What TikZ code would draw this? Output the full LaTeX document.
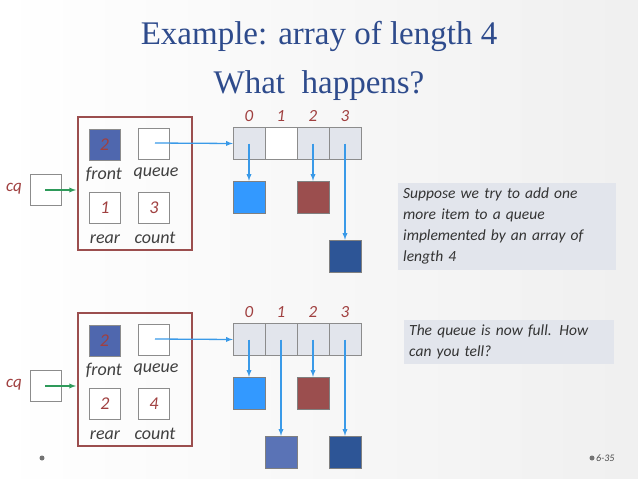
\documentclass[tikz,border=0pt]{standalone}
\usepackage{fontspec}
\setmainfont{Carlito}
\newfontfamily\titlefont{Liberation Serif}
\definecolor{ttl}{HTML}{2E4B8C}
\definecolor{arrb}{HTML}{3A9AE8}
\definecolor{fr}{HTML}{4F67AE}
\definecolor{lb}{HTML}{3399FF}
\definecolor{rd}{HTML}{9B4E4E}
\definecolor{db}{HTML}{2D5596}
\definecolor{mb}{HTML}{5A73B6}
\definecolor{cg}{HTML}{E2E5EC}
\definecolor{nm}{HTML}{A04040}
\definecolor{gr}{HTML}{2E9A5A}
\begin{document}
\begin{tikzpicture}[x=1pt,y=-1pt,
  lbl/.style={font=\itshape\fontsize{18}{18}\selectfont,text=black!75},
  num/.style={font=\itshape\fontsize{18}{18}\selectfont,text=nm},
  fld/.style={draw=black!45,fill=white},
  cell/.style={draw=black!45,fill=cg},
  arr/.style={draw=arrb,line width=1.3pt,-latex},
  note/.style={fill=cg,font=\itshape\fontsize{15.5}{21}\selectfont,text=black!80,align=left,anchor=north west,inner sep=5pt}]
\shade[left color=white,right color=gray!12] (0,0) rectangle (638,479);
\useasboundingbox (0,0) rectangle (638,479);
\node[font=\titlefont\fontsize{33}{33}\selectfont,text=ttl] (t1) at (319,36) {Example: array of length 4};
\node[font=\titlefont\fontsize{33}{33}\selectfont,text=ttl] (t2) at (319,86) {What\ \ happens?};
\foreach \o/\r/\c/\s in {0/1/3/top,196/2/4/bot}{
  \begin{scope}[yshift=-\o]
  \draw[draw=rd,line width=1.3pt] (78,117) rectangle (192,250);
  \node[fld,fill=fr,minimum size=31,inner sep=0] (front\s) at (104.5,144.5) {};
  \node[num] at (front\s) {2};
  \node[fld,minimum size=31,inner sep=0] (queue\s) at (154,144) {};
  \node[lbl] at (104,174) {front};
  \node[lbl] at (156,174) {queue};
  \node[fld,minimum size=31,inner sep=0] (rear\s) at (105,208) {};
  \node[num] at (rear\s) {\r};
  \node[fld,minimum size=31,inner sep=0] (count\s) at (154,208) {};
  \node[num] at (count\s) {\c};
  \node[lbl] at (105,239) {rear};
  \node[lbl] at (155,238) {count};
  \node[fld,minimum size=31,inner sep=0] (cq\s) at (46,190) {};
  \node[num,font=\itshape\fontsize{17}{17}\selectfont] (cql\s) at (14,189) {cq};
  \coordinate (cqs\s) at (45,190);
  \coordinate (box\s) at (76,190);
  \draw[draw=gr,line width=1.3pt,-latex] (cqs\s) -- (box\s);
  \foreach \i in {0,1,2,3}{
    \node[cell,minimum size=32,inner sep=0] (c\i\s) at (249+32*\i,143.5) {};
    \node[num,font=\itshape\fontsize{17}{17}\selectfont] at (249+32*\i,116) {\i};
  }
  \coordinate (qs\s) at (155,143);
  \draw[arr] (qs\s) -- (c0\s.west);
  \node[draw=black!50,fill=lb,minimum size=32,inner sep=0] (b0\s) at (249,197) {};
  \node[draw=black!50,fill=rd,minimum size=32,inner sep=0] (b2\s) at (313,197) {};
  \node[draw=black!50,fill=db,minimum size=32,inner sep=0] (b3\s) at (345,256) {};
  \draw[arr] (c0\s.center) -- (b0\s.north);
  \draw[arr] (c2\s.center) -- (b2\s.north);
  \draw[arr] (c3\s.center) -- (b3\s.north);
  \end{scope}
}
\node[draw=none,fill=white,minimum size=31] at (281,143.5) {};
\draw[draw=black!45] (265,127.5) rectangle (297,159.5);
\begin{scope}[yshift=-196]
\node[draw=black!50,fill=mb,minimum size=32,inner sep=0] (b1bot) at (281,256) {};
\draw[arr] (c1bot.center) -- (b1bot.north);
\end{scope}
\node[note,text width=208] (n1) at (398,183) {Suppose we try to add one\\more item to a queue\\implemented by an array of\\length 4};
\node[note,text width=200] (n2) at (404,320) {The queue is now full. How\\can you tell?};
\fill[black!55] (42,458) circle (2.5);
\fill[black!55] (592,458) circle (2.5);
\node[font=\itshape\fontsize{10}{10}\selectfont,text=black!70,anchor=west,inner sep=1pt] (pg) at (595,458) {6-35};
\end{tikzpicture}
\end{document}
